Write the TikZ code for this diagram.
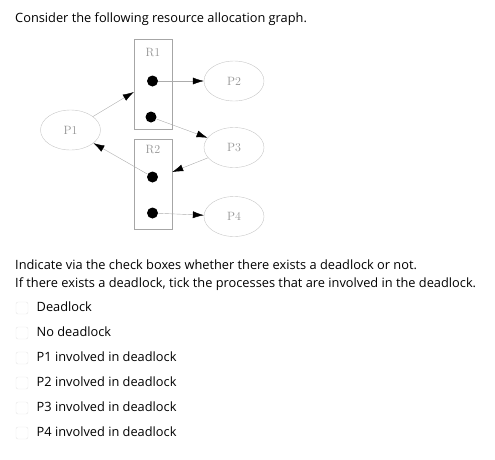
\documentclass[tikz,border=0pt]{standalone}
\usepackage{fontspec}
\setsansfont{Open Sans}
\usetikzlibrary{arrows.meta,positioning,shapes.geometric}

\tikzset{
  proc/.style={draw=gray!45, ellipse, minimum width=60pt, minimum height=40pt,
    inner sep=0pt, text=gray!85, font=\rmfamily\fontsize{12}{14}\selectfont},
  res/.style={draw=gray!70, rectangle, minimum width=38pt, minimum height=90pt,
    inner sep=0pt},
  dot/.style={circle, fill=black, minimum size=11pt, inner sep=0pt},
  edge/.style={draw=gray!65, -{Latex[length=11pt,width=7pt,black]}},
  qtext/.style={font=\sffamily\fontsize{12.8}{15}\selectfont, anchor=west, inner sep=0pt},
  chk/.style={draw=gray!20, rounded corners=2pt, minimum size=12pt, inner sep=0pt}
}

\begin{document}
\begin{tikzpicture}[x=1pt, y=-1pt]
  \useasboundingbox (0,0) rectangle (495,459);

  % question
  \node[qtext] (intro) at (15,19) {Consider the following resource allocation graph.};

  % resources
  \node[res] (R1) at (153,84.5) {};
  \node[res] (R2) at (153,184) {};
  \node[text=gray!85, font=\rmfamily\fontsize{12}{14}\selectfont] (R1lab) at (153,53) {R1};
  \node[text=gray!85, font=\rmfamily\fontsize{12}{14}\selectfont] (R2lab) at (153,150) {R2};
  \node[dot] (r1a) at (152.5,81) {};
  \node[dot] (r1b) at (151,117) {};
  \node[dot] (r2a) at (152.5,177) {};
  \node[dot] (r2b) at (152.5,213) {};

  % processes
  \node[proc] (P1) at (70.5,130) {P1};
  \node[proc] (P2) at (234,81) {P2};
  \node[proc] (P3) at (234,147.5) {P3};
  \node[proc] (P4) at (234,216.5) {P4};

  % edges
  \draw[edge] (P1) -- (R1.west |- 0,92);
  \draw[edge] (r1a) -- (P2);
  \draw[edge] (r1b) -- (P3);
  \draw[edge] (P3) -- (R2.east |- 0,172);
  \draw[edge] (r2a) -- (P1);
  \draw[edge] (r2b) -- (P4);

  % answers
  \node[qtext] (ask1) at (15,265) {Indicate via the check boxes whether there exists a deadlock or not.};
  \node[qtext] (ask2) at (15,284) {If there exists a deadlock, tick the processes that are involved in the deadlock.};
  \foreach \y/\txt [count=\i] in {307/Deadlock, 332/No deadlock, 357/P1 involved in deadlock,
      382/P2 involved in deadlock, 407/P3 involved in deadlock, 432/P4 involved in deadlock} {
    \node[chk] (box\i) at (22,\y+1) {};
    \node[qtext] (opt\i) at (36.5,\y) {\txt};
  }
\end{tikzpicture}
\end{document}
